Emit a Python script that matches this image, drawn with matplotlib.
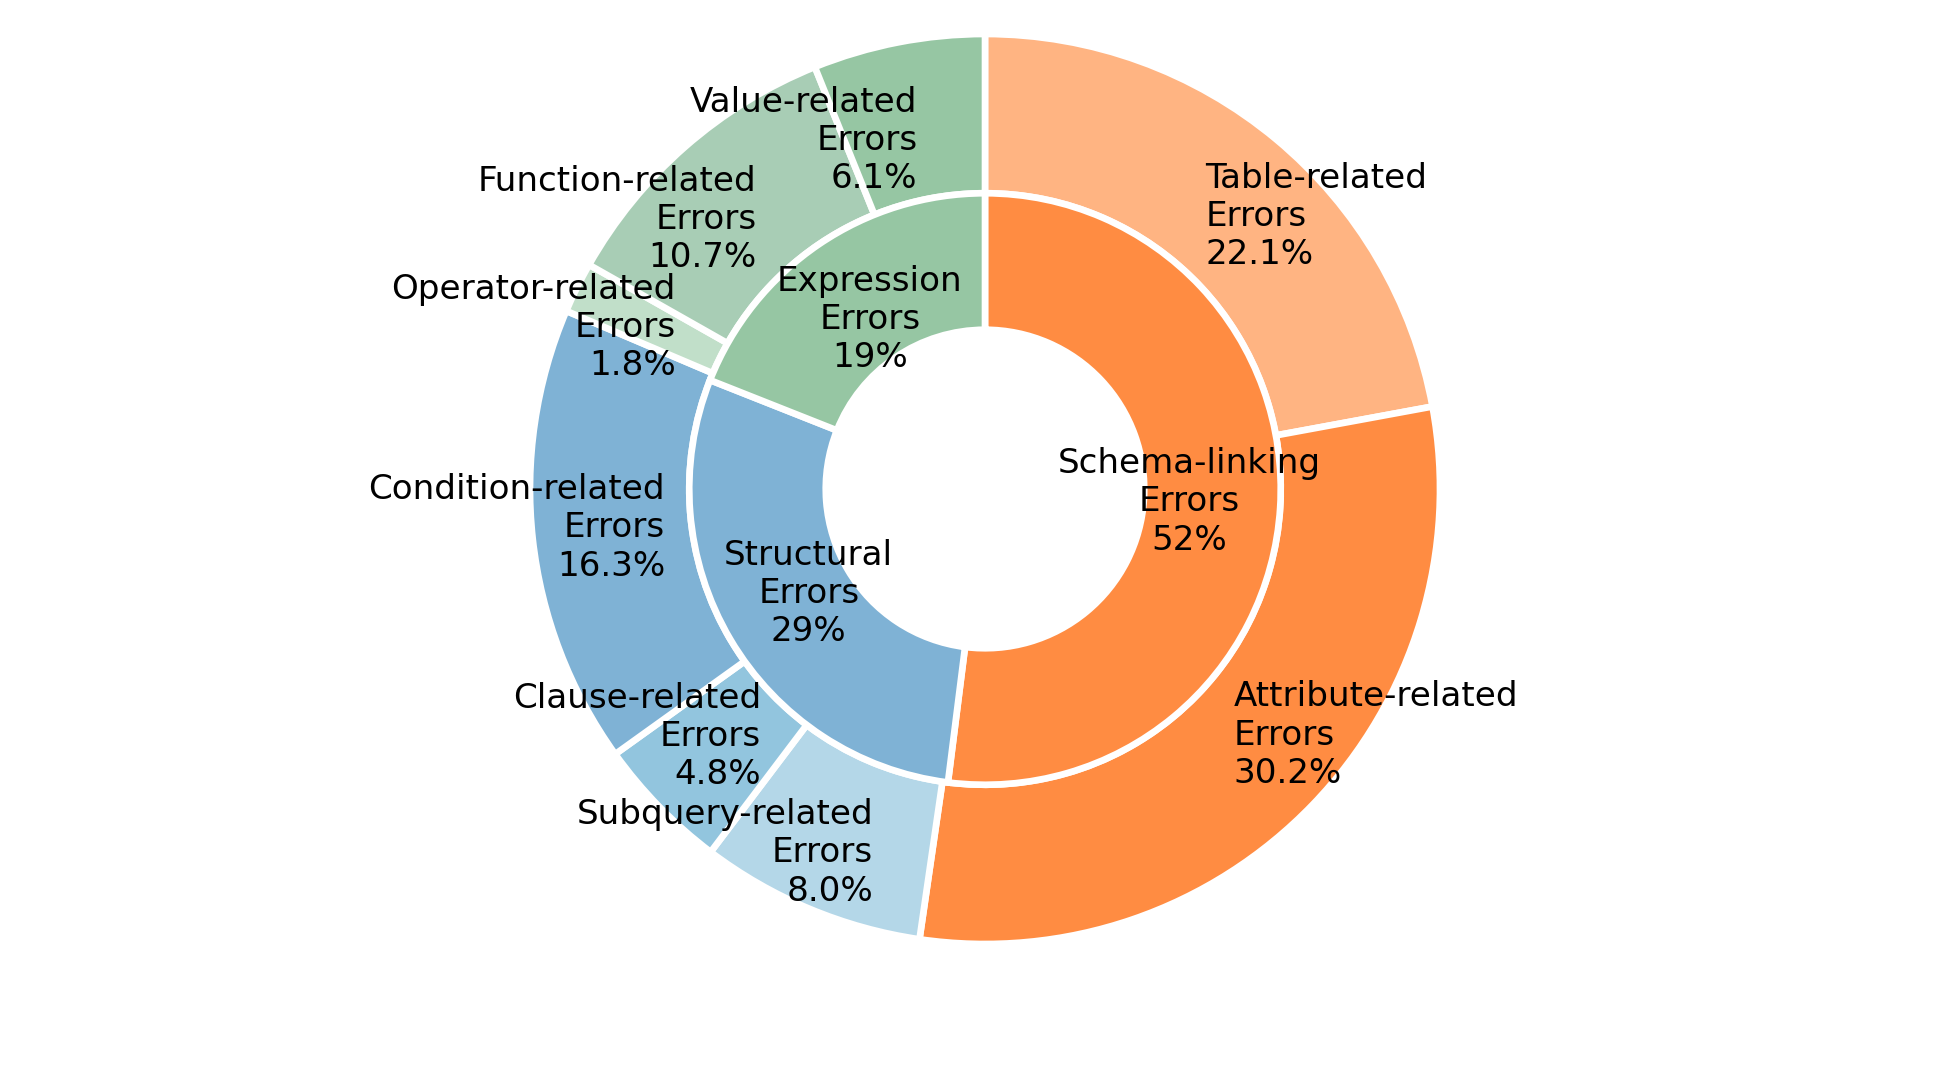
import matplotlib
matplotlib.use("Agg")
import matplotlib.pyplot as plt

# Inner ring: error categories
inner_labels = ['Schema-linking\nErrors', 'Structural\nErrors', 'Expression\nErrors']
inner_values = [52, 29, 19]
inner_colors = ['#ff8c42', '#7fb2d5', '#96c6a3']

# Outer ring: sub-categories
outer_labels = ['Table-related\nErrors', 'Attribute-related\nErrors',
                'Subquery-related\nErrors', 'Clause-related\nErrors',
                'Condition-related\nErrors', 'Operator-related\nErrors',
                'Function-related\nErrors', 'Value-related\nErrors']
outer_values = [22.1, 30.2, 8.0, 4.8, 16.3, 1.8, 10.7, 6.1]
outer_colors = ['#ffb482', '#ff8c42', '#b4d7e8', '#92c5de',
                '#7fb2d5', '#c1dfc9', '#a8cdb5', '#96c6a3']

# small manual nudges for outer labels (data units)
outer_nudge = [(-0.015, 0), (-0.015, 0), (0.055, -0.08), (0.066, 0), (0.072, 0),
               (0.02, 0.01), (0.012, 0.005), (0, 0)]

fontsize = 12.3
fig = plt.figure(figsize=(9.7, 5.36), dpi=200)
ax = fig.add_axes([0, 0, 1, 1])

wedge_props = dict(edgecolor='white', linewidth=2.4)

outer_text = [f'{l}\n{v:.1f}%' for l, v in zip(outer_labels, outer_values)]
_, otexts = ax.pie(outer_values, radius=1.0, colors=outer_colors, labels=outer_text,
                   labeldistance=0.78, startangle=90, counterclock=False,
                   wedgeprops=dict(width=0.35, **wedge_props),
                   textprops=dict(fontsize=fontsize))
for t, (dx, dy) in zip(otexts, outer_nudge):
    x, y = t.get_position()
    t.set_position((x + dx, y + dy))

inner_text = [f'{l}\n{v}%' for l, v in zip(inner_labels, inner_values)]
_, itexts = ax.pie(inner_values, radius=0.65, colors=inner_colors, labels=inner_text,
                   labeldistance=0.45 / 0.65, startangle=90, counterclock=False,
                   wedgeprops=dict(width=0.30, **wedge_props),
                   textprops=dict(fontsize=fontsize))
for t in itexts:
    t.set_horizontalalignment('center')
    t.set_multialignment('center')

# place the pie: center at (985, 489) px, radius 455 px
W, H = 1940, 1072
cx, cy, r = 985, 489, 455
ax.set_xlim(-cx / r, (W - cx) / r)
ax.set_ylim(-(H - cy) / r, cy / r)
ax.set_aspect('equal')
ax.axis('off')

fig.savefig('out.png', dpi=200)
